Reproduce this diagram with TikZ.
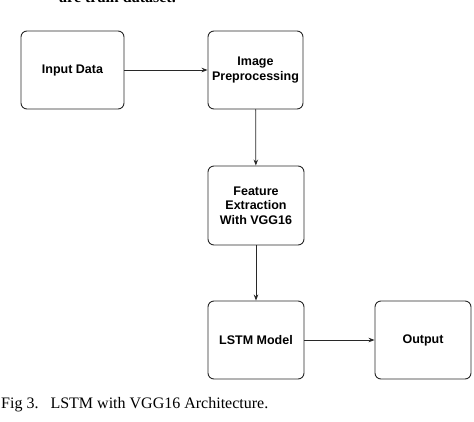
\documentclass[tikz,border=0pt]{standalone}
\usepackage{fontspec}
\setmainfont{Liberation Serif}
\newfontfamily\boxfont{Liberation Sans}
\definecolor{boxline}{RGB}{40, 40, 40}
\usetikzlibrary{arrows.meta, positioning}

\begin{document}
\begin{tikzpicture}[x=1pt, y=-1pt,
    stage/.style={draw=boxline, line width=0.9pt, rounded corners=6pt, minimum width=96pt, minimum height=78pt,
      align=center, font=\boxfont\bfseries\fontsize{12.5}{15.5}\selectfont, inner sep=2pt},
    flow/.style={-{Stealth[length=6pt, width=4.5pt]}, line width=0.8pt, draw=boxline}]
  \useasboundingbox (0,0) rectangle (474,421);
  \clip (0,0) rectangle (474,421);
  % cut-off line of text above the figure
  \node[anchor=base west, inner sep=0pt, font=\bfseries\fontsize{16}{18}\selectfont] (topline) at (59,2.5) {are train dataset.};
  % stages
  \node[stage, minimum width=103pt] (input) at (72.5,70) {Input Data};
  \node[stage, minimum width=95pt] (prep) at (255.5,70) {Image\\Preprocessing};
  \node[stage, minimum height=79pt, font=\boxfont\bfseries\fontsize{12.5}{14.5}\selectfont] (feat) at (256,205.5) {Feature\\Extraction\\With VGG16};
  \node[stage] (lstm) at (256,340) {LSTM Model};
  \node[stage] (out) at (423,340) {Output};
  % connectors
  \draw[flow] (input) -- (prep);
  \draw[flow] (prep) -- (feat);
  \draw[flow] (feat) -- (lstm);
  \draw[flow] (lstm) -- (out);
  % caption
  \node[anchor=base west, inner sep=0pt, font=\fontsize{16}{18}\selectfont] (caption) at (1,408) {Fig 3.\hspace{12pt}LSTM with VGG16 Architecture.};
\end{tikzpicture}
\end{document}
